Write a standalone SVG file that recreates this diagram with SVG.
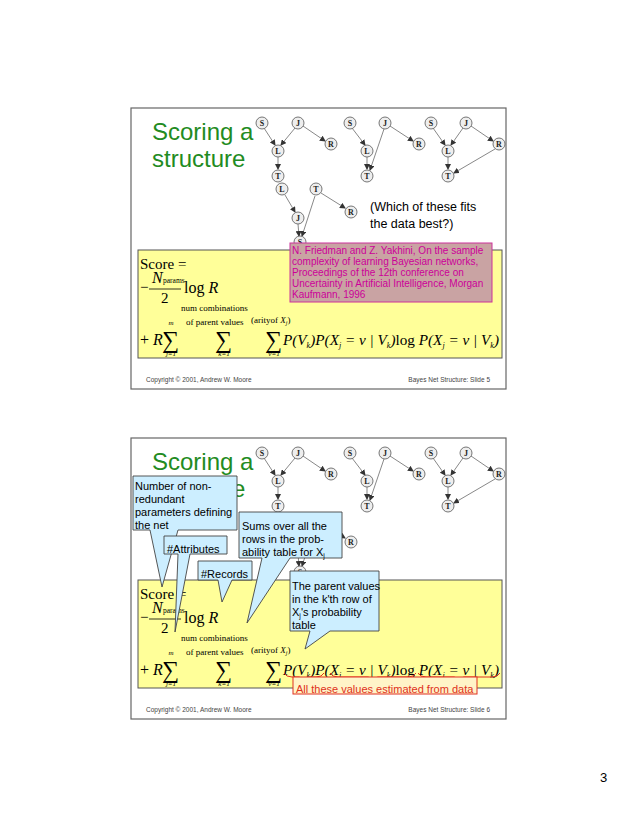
<svg xmlns="http://www.w3.org/2000/svg" xmlns:xlink="http://www.w3.org/1999/xlink" width="638" height="826" viewBox="0 0 638 826">
<style>
.frame{fill:#fff;stroke:#666;stroke-width:1.2}
.yel{fill:#FFFF99;stroke:#555;stroke-width:1}
.title{font-family:"Liberation Sans",sans-serif;font-size:24px;fill:#228B22}
.nd circle{fill:#eee;stroke:#555;stroke-width:0.8}
.nd text{font-family:"Liberation Serif",serif;font-size:8px;font-weight:bold;text-anchor:middle;fill:#222}
.ed line{stroke:#555;stroke-width:0.7;marker-end:url(#ah)}
.ser{font-family:"Liberation Serif",serif;fill:#000}
.it{font-style:italic}
.sm{font-family:"Liberation Serif",serif;font-size:9px}
.tiny{font-family:"Liberation Serif",serif;font-size:7px;font-style:italic;text-anchor:middle}
.foot{font-family:"Liberation Sans",sans-serif;font-size:6.5px;fill:#444}
.q{font-family:"Liberation Sans",sans-serif;font-size:12.5px;fill:#000}
.call{fill:#CCEEFF;stroke:#444;stroke-width:0.9}
.ct{font-family:"Liberation Sans",sans-serif;font-size:11px;fill:#000}
</style>
<defs>
<marker id="ah" markerWidth="6" markerHeight="6" refX="5" refY="3" orient="auto" markerUnits="userSpaceOnUse"><path d="M0,0 L6,3 L0,6 z" fill="#333"/></marker>
<g id="graphs">
<g class="ed">
<line x1="264" y1="128" x2="275" y2="145"/><line x1="295" y1="128" x2="281" y2="145"/><line x1="303" y1="126" x2="325" y2="141"/><line x1="278" y1="157" x2="278" y2="169"/>
<line x1="352" y1="128" x2="365" y2="145"/><line x1="390" y1="126" x2="413" y2="141"/><line x1="367" y1="157" x2="367" y2="169"/><line x1="384" y1="129" x2="370" y2="170"/>
<line x1="433" y1="128" x2="445" y2="145"/><line x1="463" y1="128" x2="451" y2="145"/><line x1="471" y1="126" x2="493" y2="141"/><line x1="448" y1="157" x2="448" y2="169"/><line x1="495" y1="149" x2="454" y2="173"/>
<line x1="285" y1="195" x2="295" y2="212"/><line x1="321" y1="193" x2="345" y2="208"/><line x1="298" y1="224" x2="299" y2="236"/><line x1="315" y1="196" x2="302" y2="236"/>
</g>
<g class="nd">
<g id="n1S"><circle cx="262" cy="123" r="6"/><text x="262" y="126">S</text></g>
<g id="n1J"><circle cx="298" cy="123" r="6"/><text x="298" y="126">J</text></g>
<g id="n1R"><circle cx="331" cy="144" r="6"/><text x="331" y="147">R</text></g>
<g id="n1L"><circle cx="278" cy="151" r="6"/><text x="278" y="154">L</text></g>
<g id="n1T"><circle cx="278" cy="176" r="6"/><text x="278" y="179">T</text></g>
<g id="n2S"><circle cx="350" cy="123" r="6"/><text x="350" y="126">S</text></g>
<g id="n2J"><circle cx="385" cy="123" r="6"/><text x="385" y="126">J</text></g>
<g id="n2R"><circle cx="419" cy="144" r="6"/><text x="419" y="147">R</text></g>
<g id="n2L"><circle cx="367" cy="151" r="6"/><text x="367" y="154">L</text></g>
<g id="n2T"><circle cx="367" cy="176" r="6"/><text x="367" y="179">T</text></g>
<g id="n3S"><circle cx="431" cy="123" r="6"/><text x="431" y="126">S</text></g>
<g id="n3J"><circle cx="466" cy="123" r="6"/><text x="466" y="126">J</text></g>
<g id="n3R"><circle cx="499" cy="144" r="6"/><text x="499" y="147">R</text></g>
<g id="n3L"><circle cx="448" cy="151" r="6"/><text x="448" y="154">L</text></g>
<g id="n3T"><circle cx="448" cy="176" r="6"/><text x="448" y="179">T</text></g>
<g id="n4L"><circle cx="282" cy="189" r="6"/><text x="282" y="192">L</text></g>
<g id="n4T"><circle cx="316" cy="189" r="6"/><text x="316" y="192">T</text></g>
<g id="n4R"><circle cx="351" cy="212" r="6"/><text x="351" y="215">R</text></g>
<g id="n4J"><circle cx="298" cy="218" r="6"/><text x="298" y="221">J</text></g>
<g id="n4S"><circle cx="300" cy="242" r="6"/><text x="300" y="245">S</text></g>
</g>
</g>
<g id="formula">
<rect class="yel" x="138" y="250" width="364" height="108"/>
<text class="ser" x="140" y="269" font-size="15">Score =</text>
<text class="ser" x="140" y="292" font-size="15">−</text>
<text class="ser it" x="152" y="283" font-size="16">N</text>
<text class="ser" x="163" y="283" font-size="7.5">params</text>
<line x1="149" y1="289" x2="181" y2="289" stroke="#000" stroke-width="0.8"/>
<text class="ser" x="161" y="303" font-size="15">2</text>
<text class="ser" x="184" y="293" font-size="16">log <tspan class="it">R</tspan></text>
<text class="sm" x="181" y="311">num combinations</text>
<text class="sm" x="186" y="325">of parent values</text>
<text class="sm" x="251" y="323">(arityof <tspan font-style="italic">X</tspan><tspan font-size="6" font-style="italic" dy="2">j</tspan><tspan dy="-2">)</tspan></text>
<text class="ser" x="140" y="345" font-size="16">+ <tspan class="it">R</tspan></text>
<text class="ser" x="162" y="348" font-size="24">∑</text>
<text class="ser" x="215" y="348" font-size="24">∑</text>
<text class="ser" x="265" y="348" font-size="24">∑</text>
<text class="tiny" x="171" y="325">m</text>
<text class="tiny" x="171" y="356">j=1</text>
<text class="tiny" x="224" y="356">k=1</text>
<text class="tiny" x="274" y="356">v=1</text>
<text class="ser it" x="283" y="345" font-size="15" textLength="216" lengthAdjust="spacingAndGlyphs">P(V<tspan font-size="8" dy="3">k</tspan><tspan dy="-3">)P(X</tspan><tspan font-size="8" dy="3">j</tspan><tspan dy="-3"> = v | V</tspan><tspan font-size="8" dy="3">k</tspan><tspan dy="-3">)</tspan><tspan font-style="normal">log </tspan>P(X<tspan font-size="8" dy="3">j</tspan><tspan dy="-3"> = v | V</tspan><tspan font-size="8" dy="3">k</tspan><tspan dy="-3">)</tspan></text>
</g>
</defs>

<!-- Slide 1 -->
<g id="slide1">
<rect class="frame" x="131" y="108" width="375" height="281"/>
<text class="title" x="152" y="140">Scoring a</text>
<text class="title" x="152" y="167">structure</text>
<use xlink:href="#graphs"/>
<text class="q" x="370" y="211">(Which of these fits</text>
<text class="q" x="370" y="228">the data best?)</text>
<use xlink:href="#formula"/>
<g id="ref">
<rect x="290" y="243" width="202" height="59" fill="#C9A3A3" stroke="#CC3399" stroke-width="1"/>
<text font-family="Liberation Sans,sans-serif" font-size="10" fill="#CC0099"><tspan x="292" y="254">N. Friedman and Z. Yakhini, On the sample</tspan><tspan x="292" y="265">complexity of learning Bayesian networks,</tspan><tspan x="292" y="276">Proceedings of the 12th conference on</tspan><tspan x="292" y="287">Uncertainty in Artificial Intelligence,  Morgan</tspan><tspan x="292" y="298">Kaufmann, 1996</tspan></text>
</g>
<text class="foot" x="146" y="382">Copyright © 2001, Andrew W. Moore</text>
<text class="foot" x="490" y="382" text-anchor="end">Bayes Net Structure: Slide 5</text>
</g>

<!-- Slide 2 -->
<g id="slide2">
<rect class="frame" x="131" y="438" width="375" height="281"/>
<g transform="translate(0,330)">
<text class="title" x="152" y="140">Scoring a</text>
<text class="title" x="152" y="167">structure</text>
<use xlink:href="#graphs"/>
<use xlink:href="#formula"/>
</g>
<g id="braces" fill="none" stroke="#E03020" stroke-width="1">
<path d="M284,673 q2,4 8,4 h7 q4,0 5,4 q1,-4 5,-4 h7 q6,0 8,-4"/>
<path d="M330,673 q2,4 8,4 h30 q4,0 5,4 q1,-4 5,-4 h30 q6,0 8,-4"/>
<path d="M418,673 q2,4 8,4 h28 q4,0 5,4 q1,-4 5,-4 h28 q6,0 8,-4"/>
</g>
<g id="est">
<rect x="293" y="677" width="184" height="17" fill="#FFF4C8" stroke="#E03020" stroke-width="1"/>
<text x="296" y="693" font-family="Liberation Sans,sans-serif" font-size="11" fill="#E03020">All these values estimated from data</text>
</g>
<g id="c1">
<path class="call" d="M133,476 H237 V530 H178 L162,587 L150,530 H133 Z"/>
<text class="ct"><tspan x="135" y="490">Number of non-</tspan><tspan x="135" y="503">redundant</tspan><tspan x="135" y="516">parameters defining</tspan><tspan x="135" y="529">the net</tspan></text>
</g>
<g id="c2">
<path class="call" d="M164,536 H227 V554 H190 L175,632 L178,554 H164 Z"/>
<text class="ct" x="167" y="553">#Attributes</text>
</g>
<g id="c3">
<path class="call" d="M198,561 H252 V580 H232 L222,602 L218,580 H198 Z"/>
<text class="ct" x="201" y="578">#Records</text>
</g>
<g id="c4">
<path class="call" d="M239,512 H342 V558 H290 L247,623 L262,558 H239 Z"/>
<text class="ct"><tspan x="242" y="530">Sums over all the</tspan><tspan x="242" y="543">rows in the prob-</tspan><tspan x="242" y="556">ability table for X<tspan font-size="7" dy="2">j</tspan></tspan></text>
</g>
<g id="c5">
<path class="call" d="M290,571 H379 V631 H330 L305,649 L310,631 H290 Z"/>
<text class="ct"><tspan x="292" y="590">The parent values</tspan><tspan x="292" y="603">in the k'th row of</tspan><tspan x="292" y="616">X<tspan font-size="7" dy="2">j</tspan><tspan dy="-2">'s probability</tspan></tspan><tspan x="292" y="629">table</tspan></text>
</g>
<text class="foot" x="146" y="712">Copyright © 2001, Andrew W. Moore</text>
<text class="foot" x="490" y="712" text-anchor="end">Bayes Net Structure: Slide 6</text>
</g>
<text x="600" y="782" font-family="Liberation Sans,sans-serif" font-size="13" fill="#000">3</text>
</svg>
